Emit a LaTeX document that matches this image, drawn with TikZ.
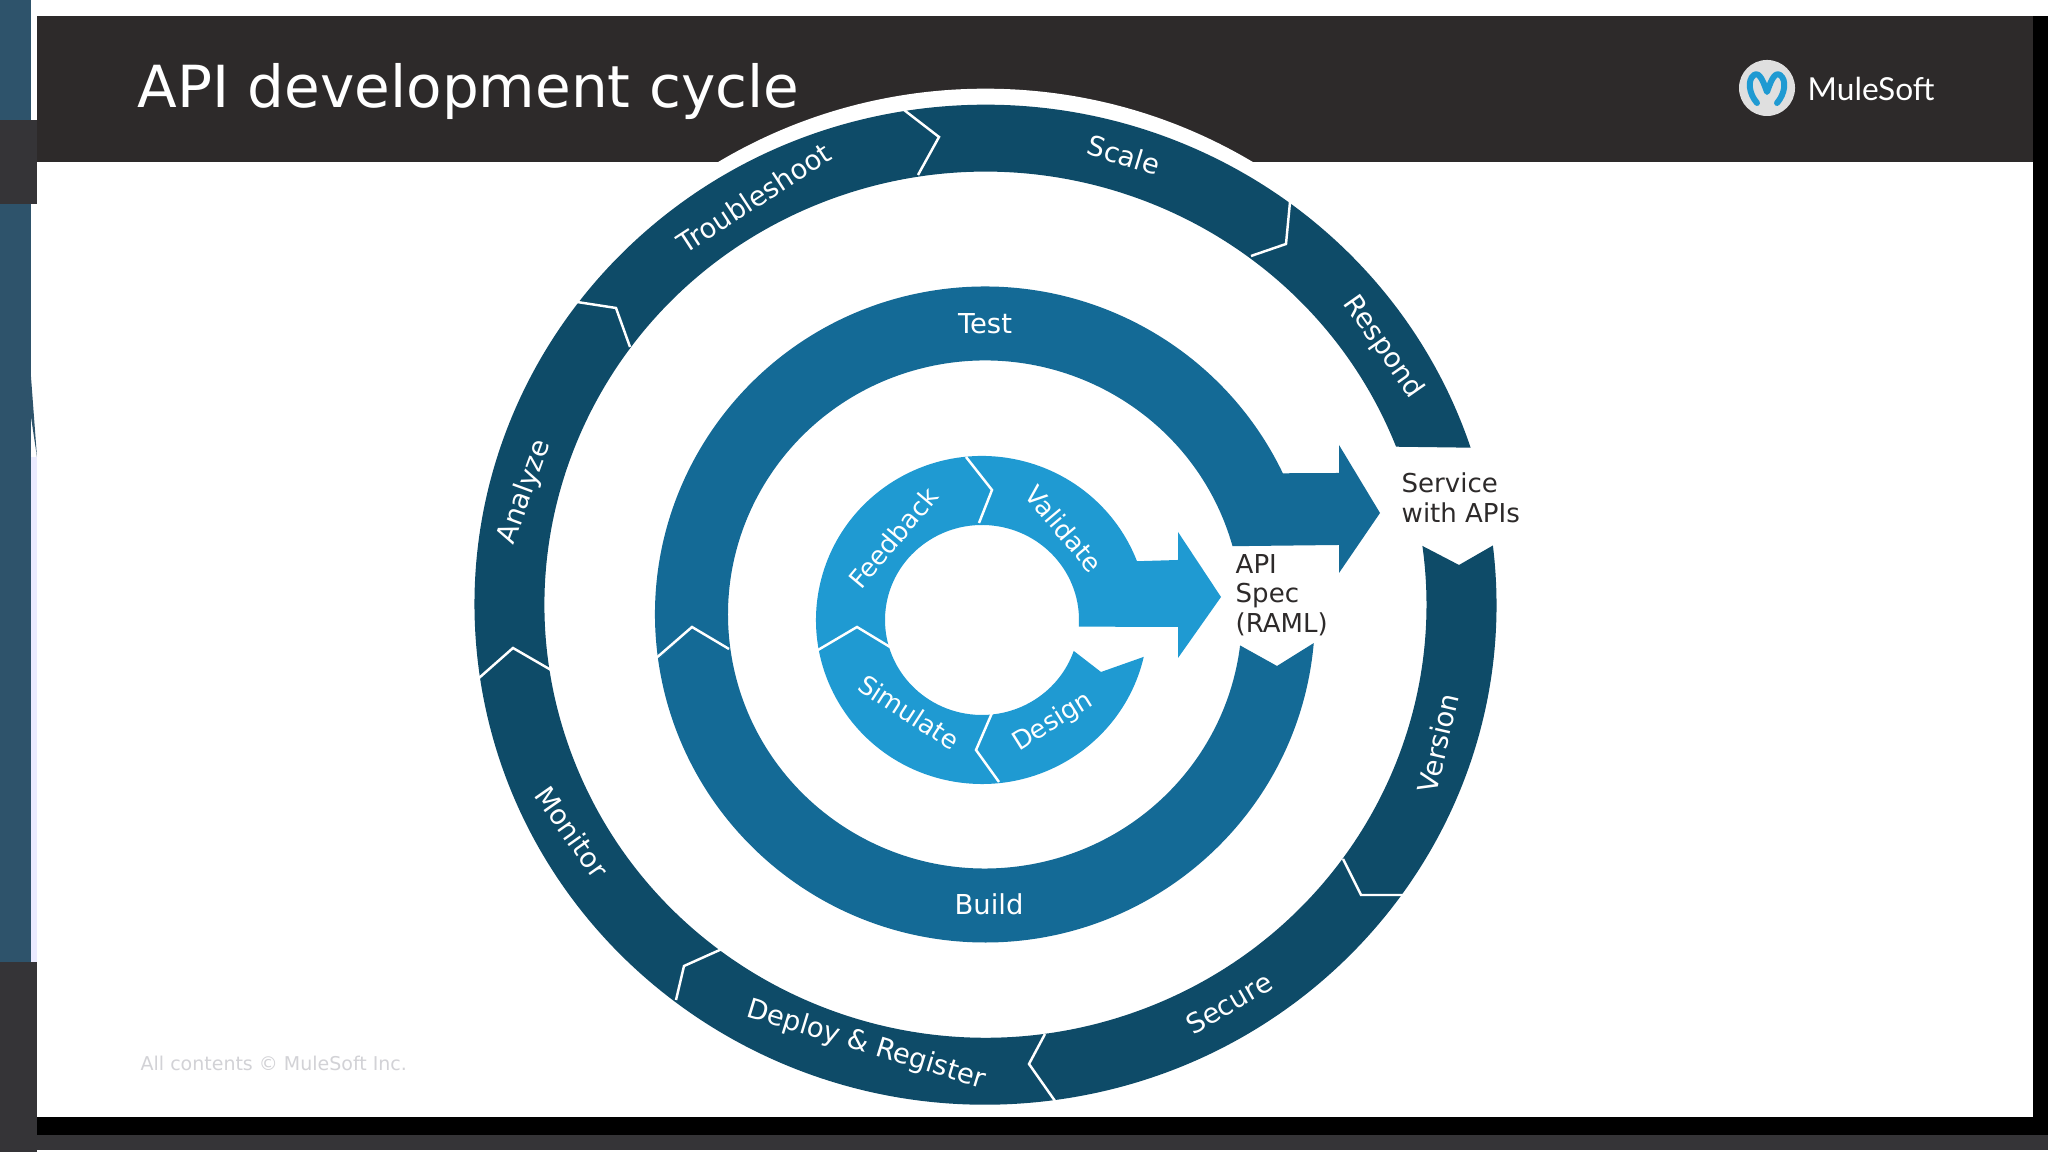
\documentclass[tikz,border=0pt]{standalone}
\usepackage{fontspec}
\setmainfont{DejaVu Sans}
\newfontfamily\logofont{Lato}
\definecolor{slidedark}{HTML}{2D2A2A}
\definecolor{framegray}{HTML}{353437}
\definecolor{frameteal}{HTML}{2E536B}
\definecolor{outerblue}{HTML}{0E4B68}
\definecolor{midblue}{HTML}{146A96}
\definecolor{innerblue}{HTML}{1F9AD2}
\definecolor{notetext}{HTML}{D2D2D6}
\tikzset{
ringlabel/.style={text=white,font=\fontsize{7.8}{9}\selectfont,inner sep=0pt},
smalllabel/.style={ringlabel,font=\fontsize{7.3}{9}\selectfont},
sidelabel/.style={text=slidedark,font=\fontsize{7.4}{8.4}\selectfont,align=left,anchor=west,inner sep=0pt},
cutline/.style={draw=white,line width=.7pt,line join=miter}
}
\begin{document}
\begin{tikzpicture}[x=.01cm,y=.01cm]
\useasboundingbox (0,0) rectangle (2048,1152);
\fill[white] (0,0) rectangle (2048,1152);
\fill[frameteal] (0,190) rectangle (31,1152);
\fill[frameteal] (31,775) -- (37,695) -- (31,735) -- cycle;
\fill[blue!8] (31,190) rectangle (37,695);
\fill[framegray] (0,948) rectangle (37,1032);
\fill[framegray] (0,0) rectangle (37,190);
\fill[slidedark] (37,990) rectangle (2033,1136);
\fill[white] (985.5,547.3) ellipse [x radius=520,y radius=516];
\fill[black] (37,17) rectangle (2048,35);
\fill[black] (2033,17) rectangle (2048,1136);
\fill[framegray] (0,2) rectangle (2048,17);

\coordinate (outerc) at (985.5,547.3);
\coordinate (midc) at (985,537.5);
\coordinate (innerc) at (982,532);

\fill[outerblue] ([shift={(outerc)}]6.8:511 and 500)
  arc[start angle=6.8,end angle=-341.7,x radius=511,y radius=500]
  -- ([shift={(outerc)}]-338.6:441 and 433)
  arc[start angle=-338.6,end angle=7.8,x radius=441,y radius=433]
  -- (1459,587) -- cycle;
\draw[cutline] (904,1042) -- (939,1015) -- (918,977);
\draw[cutline] (1290,950) -- (1286,908) -- (1251,896);
\draw[cutline] (1343,293) -- (1361,257) -- (1404,257);
\draw[cutline] (1045,118) -- (1029,88) -- (1055,51);
\draw[cutline] (676,152) -- (684,186) -- (722,203);
\draw[cutline] (479,474) -- (513,504) -- (551,482);
\draw[cutline] (630,805) -- (616,844) -- (577,850);

\fill[midblue] ([shift={(midc)}]188:330 and 328)
  arc[start angle=188,end angle=25.5,x radius=330,y radius=328]
  -- (1339,679) -- (1339,707) -- (1380,639) -- (1339,579) -- (1339,607)
  -- ([shift={(midc)}]15.6:257 and 254)
  arc[start angle=15.6,end angle=188,x radius=257,y radius=254]
  -- (692,525) -- cycle;
\fill[midblue] ([shift={(midc)}]-5:330 and 328)
  arc[start angle=-5,end angle=-172,x radius=330,y radius=328]
  -- (692,525) -- ([shift={(midc)}]-172:257 and 254)
  arc[start angle=-172,end angle=-7,x radius=257,y radius=254]
  -- (1277,486) -- cycle;
\draw[cutline] (654,492) -- (692,525) -- (729,503);

\fill[innerblue] ([shift={(innerc)}]-13:166 and 164)
  arc[start angle=-13,end angle=-339,x radius=166,y radius=164]
  -- (1178,592) -- (1178,620) -- (1221,555) -- (1178,494) -- (1178,525)
  -- ([shift={(innerc)}]-4:97 and 95)
  arc[start angle=-4,end angle=341,x radius=97,y radius=95]
  -- (1101,480) -- cycle;
\draw[cutline] (966,695) -- (992,662) -- (979,629);
\draw[cutline] (818,502) -- (857,525) -- (890,505);
\draw[cutline] (992,439) -- (976,402) -- (999,370);

\node[ringlabel,rotate=-17] (scale) at (1124,997) {Scale};
\node[ringlabel,rotate=-55] (respond) at (1383,805) {Respond};
\node[ringlabel,rotate=77] (version) at (1438,409) {Version};
\node[ringlabel,rotate=30] (secure) at (1229,149) {Secure};
\node[ringlabel,rotate=-17] (deploy) at (866,107) {Deploy \& Register};
\node[ringlabel,rotate=-55] (monitor) at (572,320) {Monitor};
\node[ringlabel,rotate=70] (analyze) at (525,660) {Analyze};
\node[ringlabel,rotate=33] (troubleshoot) at (754,954) {Troubleshoot};
\node[ringlabel] (test) at (985,828) {Test};
\node[ringlabel] (build) at (989,248) {Build};
\node[smalllabel,rotate=50] (feedback) at (893,614) {Feedback};
\node[smalllabel,rotate=-50] (validate) at (1064,623) {Validate};
\node[smalllabel,rotate=-33] (simulate) at (909,440) {Simulate};
\node[smalllabel,rotate=32] (design) at (1053,430) {Design};

\node[sidelabel] (service) at (1401,654) {Service\\with APIs};
\node[sidelabel] (spec) at (1235,557) {API\\Spec\\(RAML)};

\node[anchor=west,text=white,inner sep=0pt,font=\fontsize{16.5}{19}\selectfont] (title) at (137,1060) {API development cycle};
\node[anchor=west,text=notetext,inner sep=0pt,font=\fontsize{5.4}{6.5}\selectfont] (note) at (140,89) {All contents © MuleSoft Inc.};

\node[circle,fill=gray!25,minimum size=.56cm,inner sep=0pt] (logo) at (1767,1064) {};
\draw[innerblue,line width=1.7pt,line cap=round,line join=round] (1757,1049)
  .. controls (1749,1058) and (1747,1072) .. (1754,1077)
  .. controls (1760,1081) and (1764,1068) .. (1767,1060)
  .. controls (1770,1068) and (1774,1081) .. (1780,1077)
  .. controls (1787,1072) and (1785,1058) .. (1777,1049);
\node[anchor=west,text=white,inner sep=0pt,font=\logofont\fontsize{9}{11}\selectfont] (mule) at (1807,1063) {MuleSoft};
\end{tikzpicture}
\end{document}
